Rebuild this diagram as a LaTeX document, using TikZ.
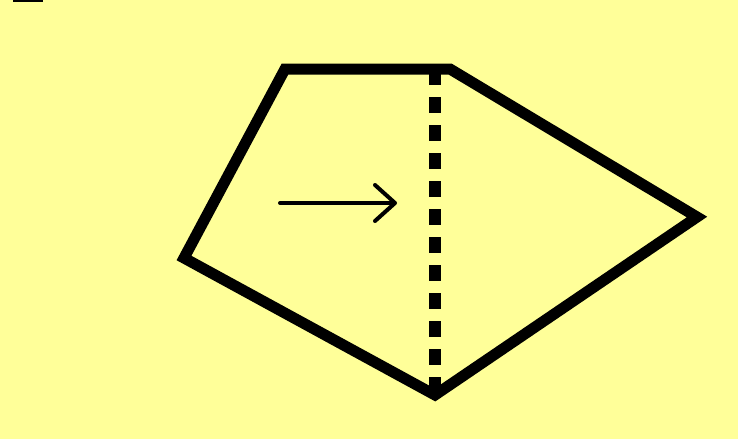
\documentclass[tikz,border=0pt]{standalone}
\usepackage{tikz}
\usetikzlibrary{arrows.meta}
\definecolor{paper}{RGB}{255,255,153}

\begin{document}
\begin{tikzpicture}[x=1pt,y=-1pt]
\tikzstyle{edge}=[black,line width=11pt,line join=miter]
\tikzstyle{cut}=[black,line width=12pt,dash pattern=on 16pt off 12pt]
\tikzstyle{push}=[black,line width=4pt,line cap=round,-{Straight Barb[length=20pt,width=36pt,round]}]
\fill [paper] (0,0) rectangle (738,439);
\useasboundingbox (0,0) rectangle (738,439);
\coordinate (p0) at (285,69);
\coordinate (p1) at (450,69);
\coordinate (p2) at (697,217);
\coordinate (p3) at (435,395);
\coordinate (p4) at (184,258);
\coordinate (m) at (435,69);
\coordinate (a0) at (280,203);
\coordinate (a1) at (397,203);
\coordinate (t0) at (13,1);
\coordinate (t1) at (43,1);
\draw [edge] (p0) -- (p1) -- (p2) -- (p3) -- (p4) -- cycle;
\draw [cut] (m) -- (p3);
\draw [push] (a0) -- (a1);
\draw [black,line width=1.2pt] (t0) -- (t1);
\end{tikzpicture}
\end{document}
